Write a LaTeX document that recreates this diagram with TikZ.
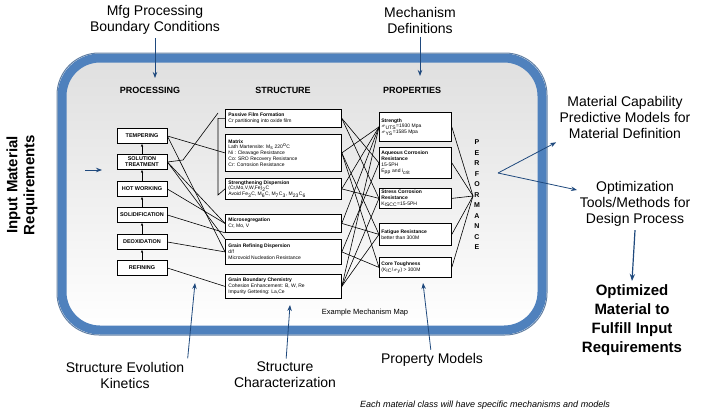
\documentclass[tikz,border=0pt]{standalone}
\usepackage{fontspec}
\setmainfont{Liberation Sans}
\usetikzlibrary{arrows.meta}
\definecolor{frameblue}{RGB}{79,129,189}
\definecolor{arrowblue}{RGB}{31,73,125}
\tikzset{
  big/.style={font=\fontsize{14}{16}\selectfont, align=center},
  head/.style={font=\fontsize{9}{10}\selectfont\bfseries},
  proc/.style={draw, thick, fill=white, minimum width=50pt, minimum height=15pt, inner sep=1pt, align=center, font=\fontsize{5.5}{6}\selectfont\bfseries},
  sbox/.style={draw, thick, fill=white, anchor=north west, inner sep=0pt, font=\fontsize{5}{5.8}\selectfont, align=left},
  link/.style={semithick},
  callout/.style={arrowblue, thick, -{Stealth[length=6pt]}}
}
\begin{document}
\begin{tikzpicture}[x=1pt,y=-1pt]
    \useasboundingbox (0,0) rectangle (708,415);
    % frame
    \draw [line width=9pt, frameblue, rounded corners=38pt, top color=gray!25, bottom color=white] (62,58) rectangle (542,330);
    \draw [line width=1pt, arrowblue!70, rounded corners=42pt] (57,53) rectangle (547,335);
    % column heads
    \node [head] (hproc)  at (150,90) {PROCESSING};
    \node [head] (hstr)   at (283,90) {STRUCTURE};
    \node [head] (hprop)  at (412,90) {PROPERTIES};
    % processing
    \node [proc] (temp)  at (142,136) {TEMPERING};
    \node [proc] (sol)   at (142,162) {SOLUTION\\TREATMENT};
    \node [proc] (hot)   at (142,189) {HOT WORKING};
    \node [proc] (solid) at (142,215) {SOLIDIFICATION};
    \node [proc] (deox)  at (142,242) {DEOXIDATION};
    \node [proc] (ref)   at (142,268) {REFINING};
    \foreach \a/\b in {ref/deox, deox/solid, solid/hot, hot/sol, sol/temp}
      \draw [-{Stealth[length=3pt]}] (\a) -- (\b);
    % structure
    \node [sbox, minimum width=116pt, minimum height=18pt] (pass) at (225,109)
      {\parbox[t][16pt][c]{110pt}{\textbf{Passive Film Formation}\\Cr partitioning into oxide film}};
    \node [sbox, minimum width=116pt, minimum height=37pt] (mat) at (225,134)
      {\parbox[t][35pt][c]{110pt}{\textbf{Matrix}\\Lath Martensite: M\textsubscript{s} 220\textsuperscript{o}C\\Ni : Cleavage Resistance\\Co: SRO Recovery Resistance\\Cr: Corrosion Resistance}};
    \node [sbox, minimum width=116pt, minimum height=21pt] (strd) at (225,178)
      {\parbox[t][19pt][c]{110pt}{\textbf{Strengthening Dispersion}\\(Cr,Mo,V,W,Fe)\textsubscript{2}C\\Avoid Fe\textsubscript{3}C, M\textsubscript{6}C, M\textsubscript{7}C\textsubscript{3}, M\textsubscript{23}C\textsubscript{6}}};
    \node [sbox, minimum width=116pt, minimum height=18pt] (micro) at (225,214)
      {\parbox[t][16pt][c]{110pt}{\textbf{Microsegregation}\\Cr, Mo, V}};
    \node [sbox, minimum width=116pt, minimum height=25pt] (grd) at (225,239)
      {\parbox[t][23pt][c]{110pt}{\textbf{Grain Refining Dispersion}\\d/f\\Microvoid Nucleation Resistance}};
    \node [sbox, minimum width=116pt, minimum height=24pt] (gbc) at (225,274)
      {\parbox[t][22pt][c]{110pt}{\textbf{Grain Boundary Chemistry}\\Cohesion Enhancement: B, W, Re\\Impurity Gettering: La,Ce}};
    % properties
    \node [sbox, minimum width=72pt, minimum height=29pt] (stren) at (379,112)
      {\parbox[t][27pt][c]{68pt}{\textbf{Strength}\\$\sigma$\textsubscript{UTS}=1930 Mpa\\$\sigma$\textsubscript{YS}=1585 Mpa}};
    \node [sbox, minimum width=72pt, minimum height=31pt] (aq) at (379,147)
      {\parbox[t][29pt][c]{68pt}{\textbf{Aqueous Corrosion}\\\textbf{Resistance}\\ 15-5PH\\E\textsubscript{pp} and i\textsubscript{crit}}};
    \node [sbox, minimum width=72pt, minimum height=20pt] (scr) at (379,188)
      {\parbox[t][18pt][c]{68pt}{\textbf{Stress Corrosion}\\\textbf{Resistance}\\K\textsubscript{ISCC}=15-5PH}};
    \node [sbox, minimum width=72pt, minimum height=22pt] (fat) at (379,223)
      {\parbox[t][20pt][c]{68pt}{\textbf{Fatigue Resistance}\\better than 300M}};
    \node [sbox, minimum width=72pt, minimum height=20pt] (core) at (379,257)
      {\parbox[t][18pt][c]{68pt}{\textbf{Core Toughness}\\(K\textsubscript{IC}/$\sigma$\textsubscript{y}) > 300M}};
    % performance
    \node [font=\fontsize{7}{10.5}\selectfont\bfseries, align=center] (perf) at (477,195)
      {P\\E\\R\\F\\O\\R\\M\\A\\N\\C\\E};
    \coordinate (pin) at (473,196);
    \foreach \p in {stren, aq, scr, fat, core}
      \draw [link] (\p.east) -- (pin);
    % processing -> structure
    \coordinate (brk) at (218,113);
    \draw [link] (pass.west) -- ++(-7,0) -- (218,195) -- (strd.west);
    \draw [link] (sol.east) -- (183,160) -- (brk);
    \draw [link] (temp.east) -- (mat.west);
    \draw [link] (temp.east) -- (grd.west);
    \draw [link] (sol.east) -- (micro.west);
    \draw [link] (sol.east) -- (grd.north west);
    \draw [link] (hot.east) -- (micro.west);
    \draw [link] (solid.east) -- (micro.south west);
    \draw [link] (deox.east) -- (grd.west);
    \draw [link] (ref.east) -- (gbc.west);
    % structure -> properties
    \foreach \s/\p in {pass/aq, pass/scr, mat/stren, mat/fat, mat/core, strd/stren, strd/scr,
                       micro/stren, micro/fat, grd/aq, grd/core, gbc/scr, gbc/stren, gbc/fat}
      \draw [link] (\s.east) -- (\p.west);
    % outer labels
    \node [big] (mfg)  at (155,20) {Mfg Processing\\Boundary Conditions};
    \node [big] (mech) at (420,20) {Mechanism\\Definitions};
    \coordinate (mfgend) at (155,78);
    \coordinate (mechend) at (420,76);
    \draw [callout] (mfg) -- (mfgend);
    \draw [callout] (mech) -- (mechend);
    \node [font=\fontsize{15}{17}\selectfont\bfseries, rotate=90, align=center] (inp) at (22,185) {Input Material\\Requirements};
    \coordinate (inpa) at (85,170);
    \coordinate (inpb) at (102,170);
    \draw [callout] (inpa) -- (inpb);
    \node [big, anchor=north] (cap) at (625,93) {Material Capability\\Predictive Models for\\Material Definition};
    \node [big, anchor=north] (opt) at (635,178) {Optimization\\Tools/Methods for\\Design Process};
    \coordinate (fork) at (498,173);
    \coordinate (optin) at (577,190);
    \draw [callout] (fork) -- (cap.south west);
    \draw [callout] (fork) -- (optin);
    \node [font=\fontsize{15}{19}\selectfont\bfseries, align=center] (optm) at (632,320) {Optimized\\Material to\\Fulfill Input\\Requirements};
    \draw [arrowblue, very thick, -{Stealth[length=7pt]}] (opt.south) -- (optm.north);
    \node [big] (sek) at (125,375) {Structure Evolution\\Kinetics};
    \coordinate (seke) at (195,283);
    \draw [callout] (sek.north east) -- (seke);
    \node [big] (sch) at (285,375) {Structure\\Characterization};
    \coordinate (sche) at (290,305);
    \draw [callout] (sch) -- (sche);
    \node [big] (pm) at (432,360) {Property Models};
    \coordinate (pme) at (423,283);
    \draw [callout] (pm) -- (pme);
    \node [font=\fontsize{7.5}{9}\selectfont] (emm) at (365,313) {Example Mechanism Map};
    \node [font=\fontsize{9}{10}\selectfont\itshape] (note) at (485,405) {Each material class will have specific mechanisms and models};
  \end{tikzpicture}
\end{document}
